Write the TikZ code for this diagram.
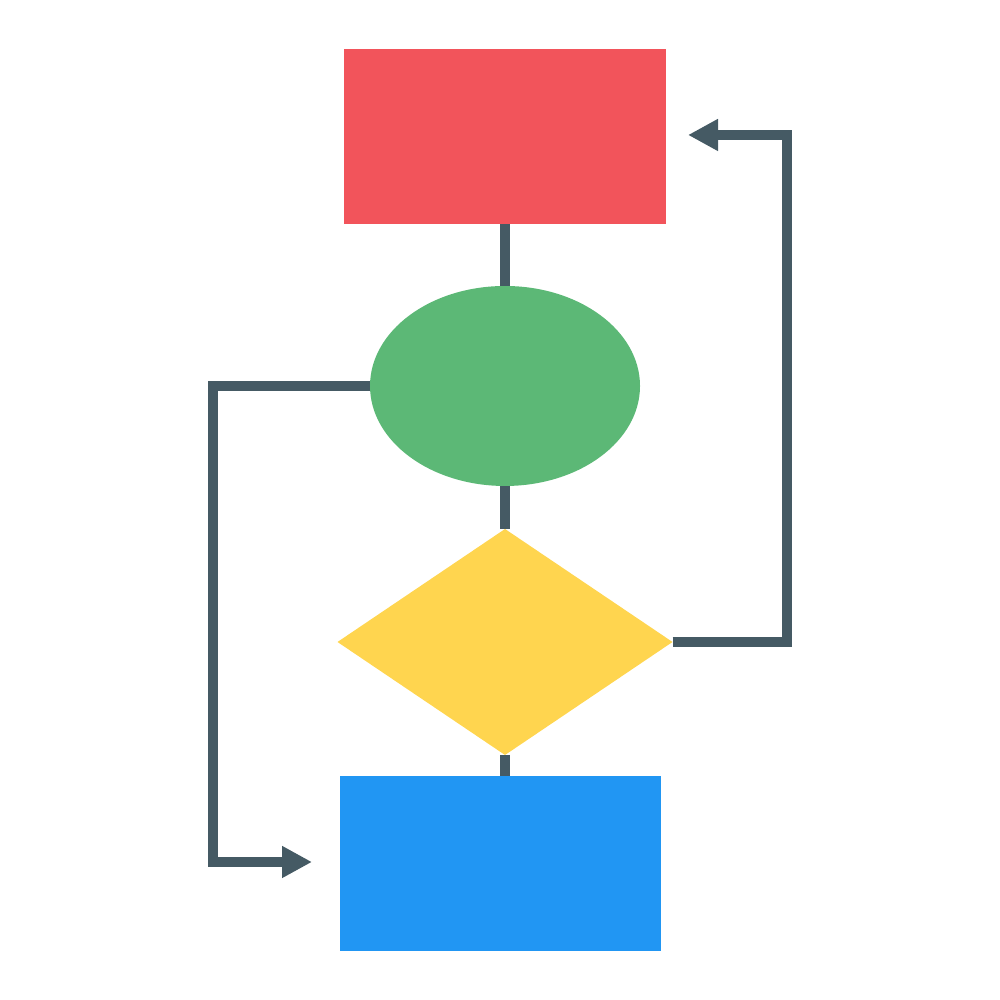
\documentclass[tikz,border=0pt]{standalone}
\usetikzlibrary{positioning,shapes.geometric,arrows.meta}
\definecolor{boxred}{HTML}{F2545B}
\definecolor{boxgreen}{HTML}{5CB876}
\definecolor{boxyellow}{HTML}{FFD54F}
\definecolor{boxblue}{HTML}{2196F3}
\definecolor{linkgrey}{HTML}{455A64}
\begin{document}
\begin{tikzpicture}[
  every node/.style={inner sep=0pt, outer sep=0pt},
  block/.style={rectangle, minimum width=3.22cm, minimum height=1.75cm},
  link/.style={draw=linkgrey, line width=0.095cm},
  loop/.style={link, -{Triangle[length=0.3cm,width=0.3cm]}}
]
\useasboundingbox (0,0) rectangle (10,10);
% shapes, top to bottom
\node [block, fill=boxred] (start) at (5.05,8.635) {};
\node [ellipse, fill=boxgreen, minimum width=2.7cm, minimum height=2cm, below=0.62cm of start] (proc) {};
\node [diamond, fill=boxyellow, minimum width=3.35cm, minimum height=2.26cm, below=0.43cm of proc] (test) {};
\node [block, fill=boxblue, minimum width=3.21cm, below=0.21cm of test, xshift=-0.05cm] (stop) {};
% straight links
\draw [link] (start) -- (proc);
\draw [link] (proc) -- (test);
\draw [link] (test.south) -- (test.south |- stop.north);
% loop-back corners and ends
\coordinate (lcorner) at (2.13,1.38);
\coordinate (lend) at (3.12,1.38);
\coordinate (rcorner) at (7.87,8.65);
\coordinate (rend) at (6.88,8.65);
\draw [loop] (proc.west) -| (lcorner) -- (lend);
\draw [loop] (test.east) -| (rcorner) -- (rend);
\end{tikzpicture}
\end{document}
